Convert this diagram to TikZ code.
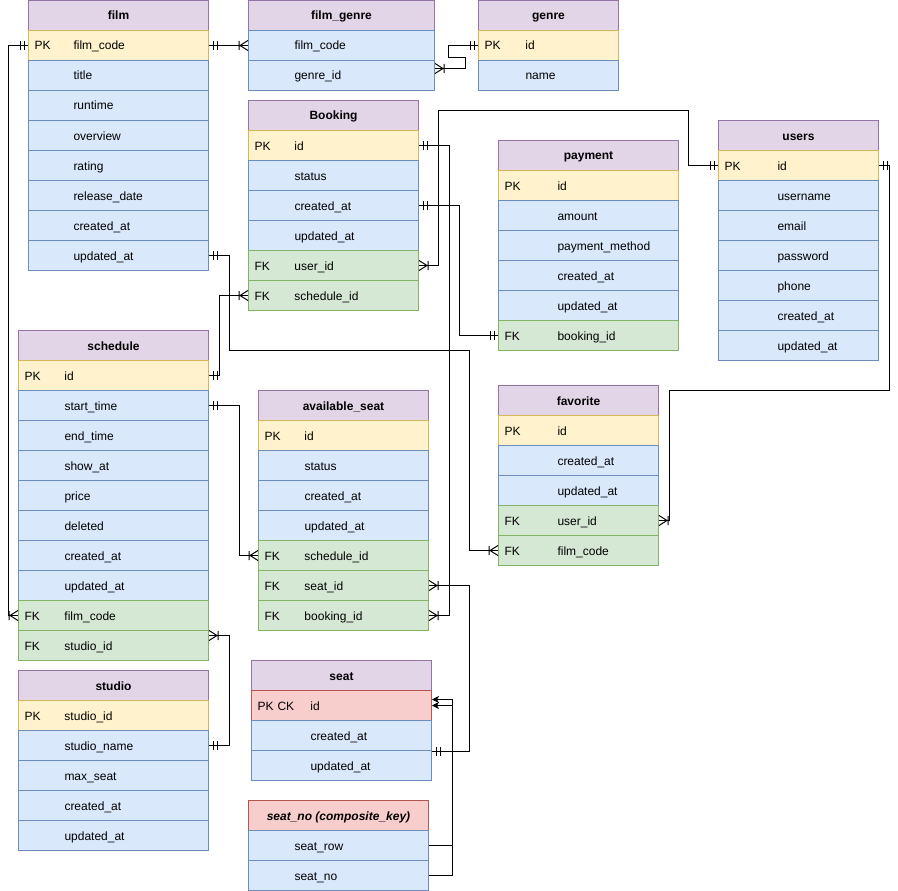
\documentclass[tikz,border=0pt]{standalone}
\usepackage{fontspec}
\setmainfont{Liberation Sans}
\usepackage{xcolor}
\usepackage{tikz}
\usetikzlibrary{arrows.meta,decorations.markings}
\definecolor{hdFill}{HTML}{E1D5E7}
\definecolor{hdDraw}{HTML}{9673A6}
\definecolor{pkFill}{HTML}{FFF2CC}
\definecolor{pkDraw}{HTML}{D6B656}
\definecolor{rowFill}{HTML}{DAE8FC}
\definecolor{rowDraw}{HTML}{6C8EBF}
\definecolor{fkFill}{HTML}{D5E8D4}
\definecolor{fkDraw}{HTML}{82B366}
\definecolor{ckFill}{HTML}{F8CECC}
\definecolor{ckDraw}{HTML}{B85450}

\begin{document}
\begin{tikzpicture}[x=1pt,y=-1pt,>={Stealth[length=7pt,width=7pt,inset=2pt]},line width=1pt,
  font=\fontsize{12}{14}\selectfont,
  head/.style={draw=hdDraw,fill=hdFill,anchor=north west,minimum height=30pt,inner sep=0pt,text height=10.5pt,text depth=1.5pt,font=\fontsize{12}{14}\selectfont\bfseries},
  cell/.style={anchor=north west,minimum height=30pt,inner xsep=6pt,inner ysep=0pt,align=left,text height=10.5pt,text depth=1.5pt},
  pk/.style={cell,draw=pkDraw,fill=pkFill},
  row/.style={cell,draw=rowDraw,fill=rowFill},
  fk/.style={cell,draw=fkDraw,fill=fkFill},
  ck/.style={cell,draw=ckDraw,fill=ckFill},
  one start/.style={postaction={decorate,decoration={markings,mark=at position 0 with
    {\draw (4pt,-4.5pt) -- (4pt,4.5pt) (8pt,-4.5pt) -- (8pt,4.5pt);}}}},
  one end/.style={postaction={decorate,decoration={markings,mark=at position 1 with
    {\draw (-4pt,-4.5pt) -- (-4pt,4.5pt) (-8pt,-4.5pt) -- (-8pt,4.5pt);}}}},
  many end/.style={postaction={decorate,decoration={markings,mark=at position 1 with
    {\draw (-9pt,-4.5pt) -- (-9pt,4.5pt) (0pt,-5pt) -- (-8pt,0pt) -- (0pt,5pt);}}}}
]
  \path[use as bounding box,fill=white] (0,0) rectangle (898,891);

  % tables
  \node[head,minimum width=180pt] (film) at (28,0) {film};
  \foreach \s/\k/\f [count=\i] in {pk/PK/film\_code,row//title,row//runtime,row//overview,row//rating,row//release\_date,row//created\_at,row//updated\_at}
    \node[\s,text width=168pt] (film-\i) at (28,30*\i) {\makebox[39pt][l]{\k}\f};

  \node[head,minimum width=186pt] (fgenre) at (248,0) {film\_genre};
  \foreach \s/\k/\f [count=\i] in {row//film\_code,row//genre\_id}
    \node[\s,text width=174pt] (fgenre-\i) at (248,30*\i) {\makebox[40pt][l]{\k}\f};

  \node[head,minimum width=140pt] (genre) at (478,0) {genre};
  \foreach \s/\k/\f [count=\i] in {pk/PK/id,row//name}
    \node[\s,text width=128pt] (genre-\i) at (478,30*\i) {\makebox[41pt][l]{\k}\f};

  \node[head,minimum width=170pt] (book) at (248,100) {Booking};
  \foreach \s/\k/\f [count=\i] in {pk/PK/id,row//status,row//created\_at,row//updated\_at,fk/FK/user\_id,fk/FK/schedule\_id}
    \node[\s,text width=158pt] (book-\i) at (248,100+30*\i) {\makebox[40pt][l]{\k}\f};

  \node[head,minimum width=180pt] (pay) at (498,140) {payment};
  \foreach \s/\k/\f [count=\i] in {pk/PK/id,row//amount,row//payment\_method,row//created\_at,row//updated\_at,fk/FK/booking\_id}
    \node[\s,text width=168pt] (pay-\i) at (498,140+30*\i) {\makebox[53pt][l]{\k}\f};

  \node[head,minimum width=160pt] (users) at (718,120) {users};
  \foreach \s/\k/\f [count=\i] in {pk/PK/id,row//username,row//email,row//password,row//phone,row//created\_at,row//updated\_at}
    \node[\s,text width=148pt] (users-\i) at (718,120+30*\i) {\makebox[53pt][l]{\k}\f};

  \node[head,minimum width=190pt] (sched) at (18,330) {schedule};
  \foreach \s/\k/\f [count=\i] in {pk/PK/id,row//start\_time,row//end\_time,row//show\_at,row//price,row//deleted,row//created\_at,row//updated\_at,fk/FK/film\_code,fk/FK/studio\_id}
    \node[\s,text width=178pt] (sched-\i) at (18,330+30*\i) {\makebox[40pt][l]{\k}\f};

  \node[head,minimum width=170pt] (aseat) at (258,390) {available\_seat};
  \foreach \s/\k/\f [count=\i] in {pk/PK/id,row//status,row//created\_at,row//updated\_at,fk/FK/schedule\_id,fk/FK/seat\_id,fk/FK/booking\_id}
    \node[\s,text width=158pt] (aseat-\i) at (258,390+30*\i) {\makebox[40pt][l]{\k}\f};

  \node[head,minimum width=160pt] (fav) at (498,385) {favorite};
  \foreach \s/\k/\f [count=\i] in {pk/PK/id,row//created\_at,row//updated\_at,fk/FK/user\_id,fk/FK/film\_code}
    \node[\s,text width=148pt] (fav-\i) at (498,385+30*\i) {\makebox[53pt][l]{\k}\f};

  \node[head,minimum width=190pt] (studio) at (18,670) {studio};
  \foreach \s/\k/\f [count=\i] in {pk/PK/studio\_id,row//studio\_name,row//max\_seat,row//created\_at,row//updated\_at}
    \node[\s,text width=178pt] (studio-\i) at (18,670+30*\i) {\makebox[40pt][l]{\k}\f};

  \node[head,minimum width=180pt] (seat) at (251,660) {seat};
  \foreach \s/\k/\f [count=\i] in {ck/PK CK/id,row//created\_at,row//updated\_at}
    \node[\s,text width=168pt] (seat-\i) at (251,660+30*\i) {\makebox[53pt][l]{\k}\f};

  \node[head,draw=ckDraw,fill=ckFill,minimum width=180pt,font=\fontsize{12}{14}\selectfont\bfseries\itshape] (seatno) at (248,800) {seat\_no (composite\_key)};
  \foreach \s/\k/\f [count=\i] in {row//seat\_row,row//seat\_no}
    \node[\s,text width=168pt] (seatno-\i) at (248,800+30*\i) {\makebox[40pt][l]{\k}\f};

  % relations
  \draw[one start,many end] (film-1.east) -- (fgenre-1.west);
  \draw[one start,many end] (genre-1.west) -- ++(-30,0) -- ++(0,12) -- ++(17,0) |- ([yshift=7pt]fgenre-2.east);
  \draw[one start,many end] (film-1.west) -- ++(-20,0) |- (sched-9.west);
  \draw[one start,many end] (film-8.east) -- ++(20,0) -- ++(0,95) -- ++(240,0) |- (fav-5.west);
  \draw[one start,many end] (sched-1.east) -- ++(10,0) |- (book-6.west);
  \draw[one start,many end] (sched-2.east) -- ++(30,0) |- (aseat-5.west);
  \draw[one start,many end] (studio-2.east) -- ++(20,0) |- ([yshift=10pt]sched-10.east);
  \draw[one start,many end] (book-1.east) -- ++(30,0) |- (aseat-7.east);
  \draw[one start,one end] (book-3.east) -- ++(40,0) |- (pay-6.west);
  \draw[one start,many end] (users-1.west) -- ++(-30,0) -- ++(0,-55) -- ++(-250,0) |- (book-5.east);
  \draw[one start,many end] (users-1.east) -- ++(10,0) -- ++(0,225) -- ++(-220,0) |- (fav-4.east);
  \draw[one start,many end] (seat-2.south east) -- ++(37,0) |- (aseat-6.east);
  \draw[->] (seatno-1.east) -- ++(23,0) |- (seat-1.east);
  \draw[->] (seatno-2.east) -- ++(23,0) |- ([yshift=6pt]seat-1.east);
\end{tikzpicture}
\end{document}
